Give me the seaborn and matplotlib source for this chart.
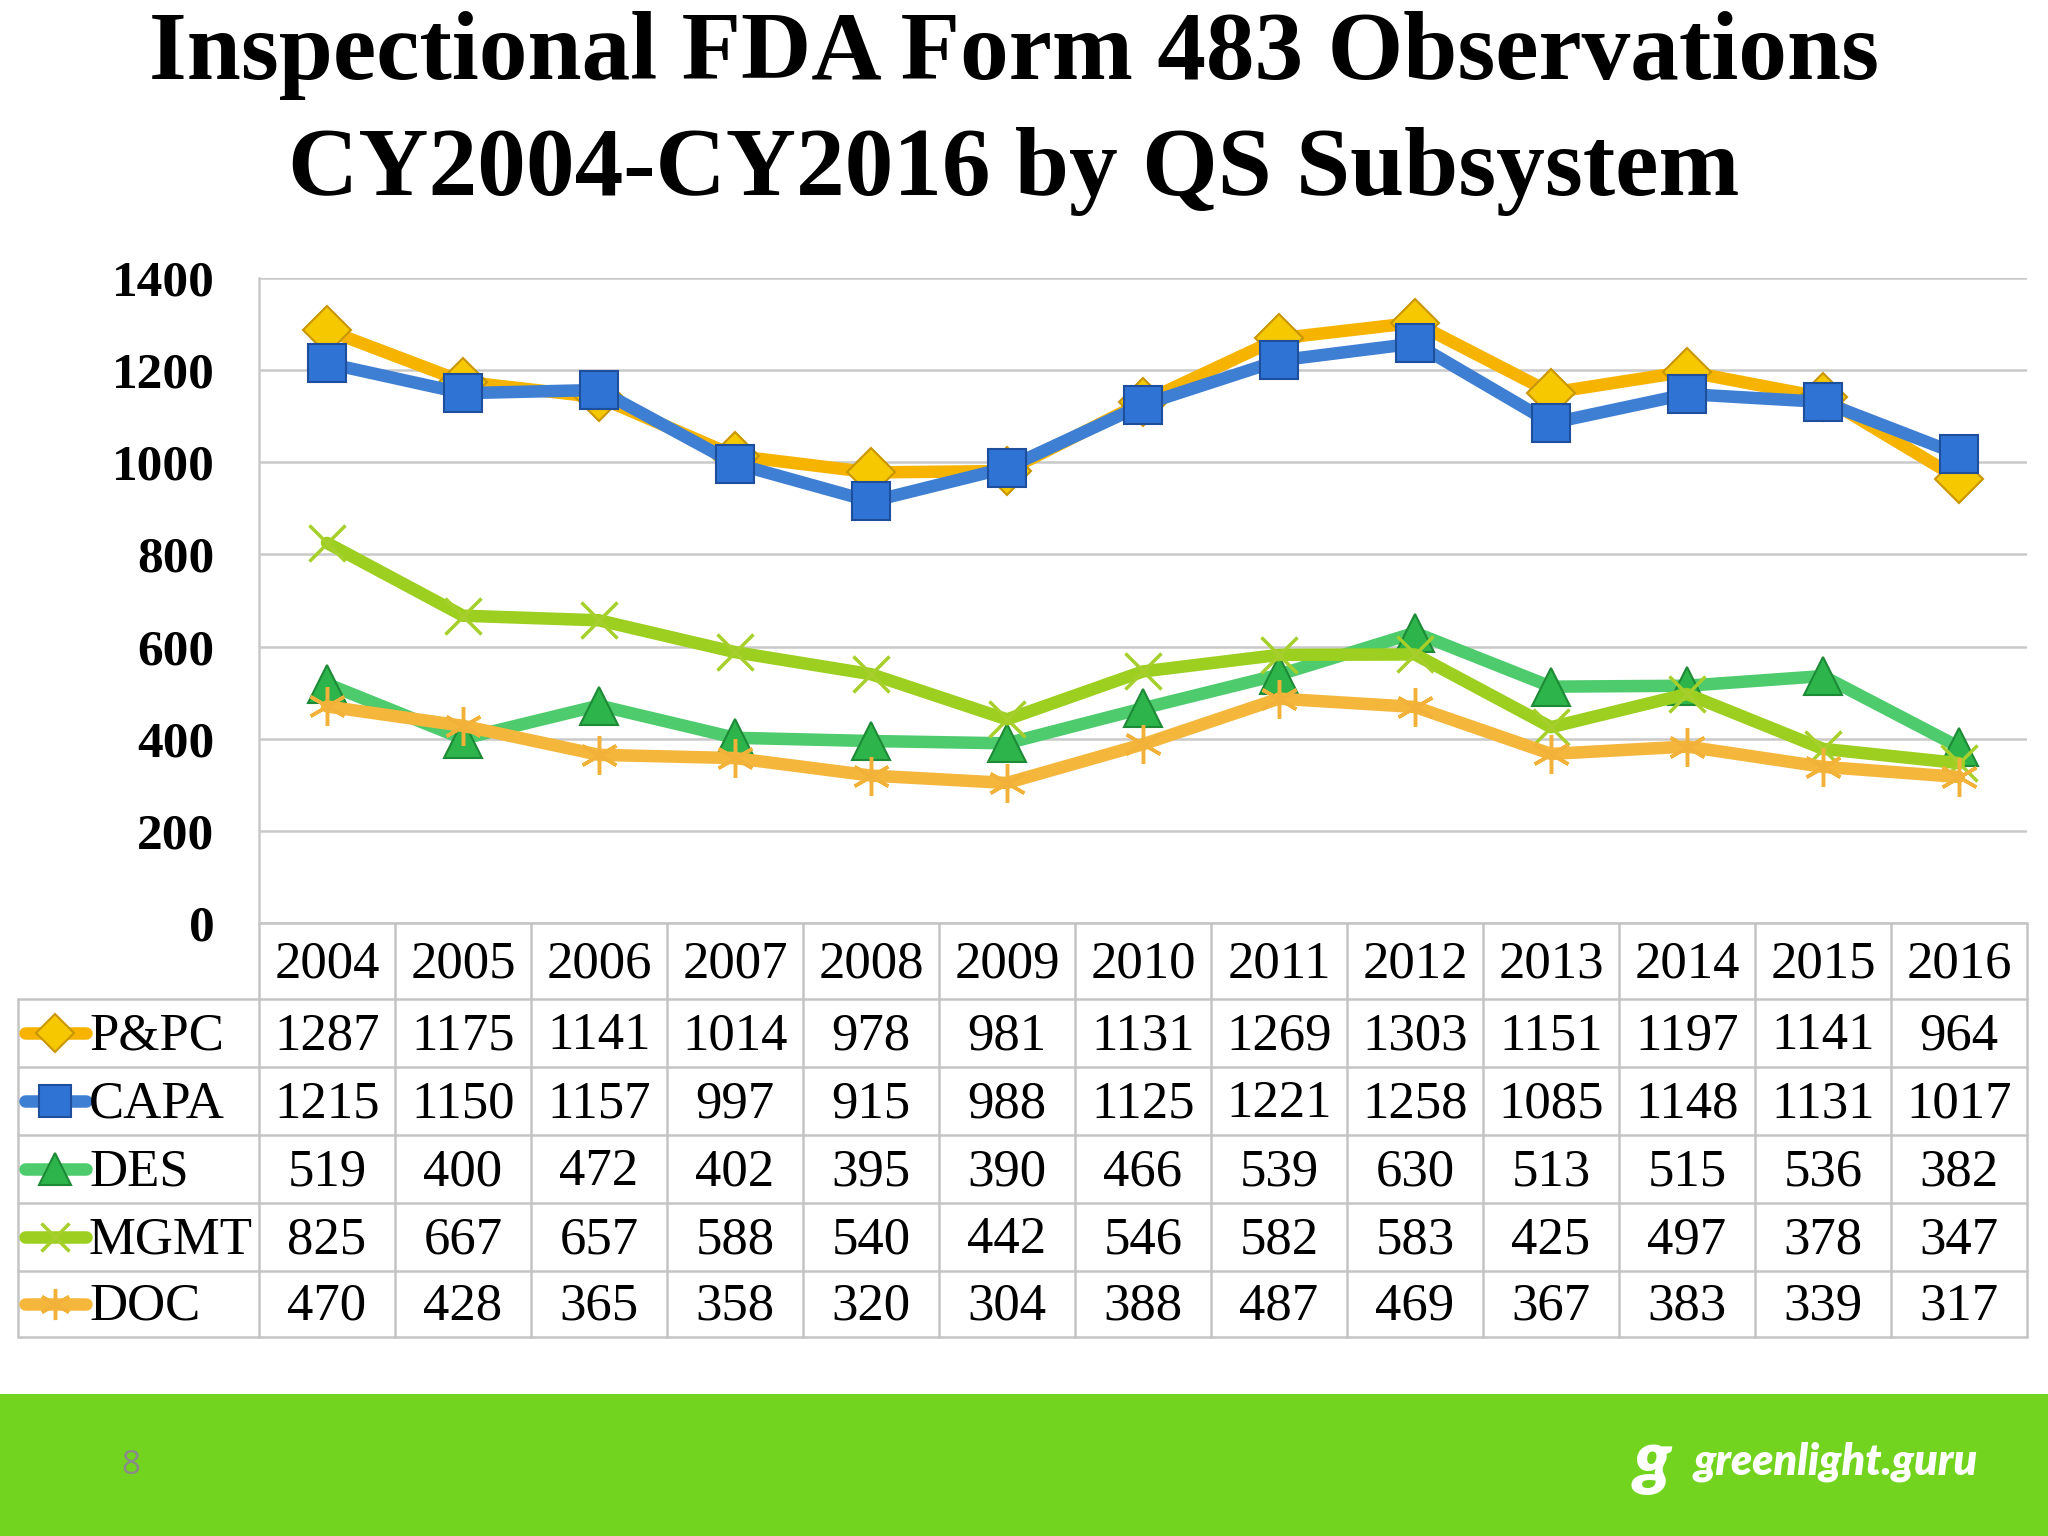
import numpy as np
import pandas as pd
import seaborn as sns
import matplotlib.pyplot as plt
from matplotlib.patches import Rectangle

# data
years = [2004, 2005, 2006, 2007, 2008, 2009, 2010, 2011, 2012, 2013, 2014, 2015, 2016]
ppc = [1287, 1175, 1141, 1014, 978, 981, 1131, 1269, 1303, 1151, 1197, 1141, 964]
capa = [1215, 1150, 1157, 997, 915, 988, 1125, 1221, 1258, 1085, 1148, 1131, 1017]
des = [519, 400, 472, 402, 395, 390, 466, 539, 630, 513, 515, 536, 382]
mgmt = [825, 667, 657, 588, 540, 442, 546, 582, 583, 425, 497, 378, 347]
doc = [470, 428, 365, 358, 320, 304, 388, 487, 469, 367, 383, 339, 317]
names = ['P&PC', 'CAPA', 'DES', 'MGMT', 'DOC']
yticks = [0, 200, 400, 600, 800, 1000, 1200, 1400]

df = pd.DataFrame({'year': years, 'P&PC': ppc, 'CAPA': capa, 'DES': des,
                   'MGMT': mgmt, 'DOC': doc})
long = df.melt(id_vars='year', var_name='series', value_name='count')

# style per series: line colour, marker, marker face, marker edge, size, edge width
styles = {
    'P&PC': dict(color='#F6B400', marker='D', mfc='#F5C800', mec='#C99500', ms=24, mew=1.5),
    'CAPA': dict(color='#3E7ED3', marker='s', mfc='#2F73D4', mec='#1E4F9C', ms=28, mew=1.5),
    'DES': dict(color='#4ECB6C', marker='^', mfc='#2DB44B', mec='#1D8A36', ms=28, mew=1.5),
    'MGMT': dict(color='#9CCF1F', marker='x', mfc='#A6CF2C', mec='#A6CF2C', ms=26, mew=2.5),
    'DOC': dict(color='#F5B63C', marker=(6, 2, 0), mfc='#F2B23A', mec='#F2B23A', ms=28, mew=2.5),
}

W, H = 2048, 1536
plot_l, plot_r, plot_t, plot_b = 259, 2027, 278, 923
tab_l = 18
row_edges = [923, 999, 1067, 1135, 1203, 1271, 1337]
serif = ['Liberation Serif', 'DejaVu Serif']

sns.set_style('white')
plt.rcParams['font.family'] = serif
plt.rcParams['text.color'] = 'black'
plt.rcParams['ytick.color'] = 'black'

fig = plt.figure(figsize=(W / 100, H / 100), dpi=100)
fig.patch.set_facecolor('white')

# overlay in pixel coordinates for the table, title and footer
ov = fig.add_axes([0, 0, 1, 1])
ov.set_xlim(0, W)
ov.set_ylim(H, 0)
ov.axis('off')

ax = fig.add_axes([plot_l / W, 1 - plot_b / H, (plot_r - plot_l) / W, (plot_b - plot_t) / H])
ax.patch.set_alpha(0)

for name in names:
    st = styles[name]
    sub = long[long.series == name]
    sns.lineplot(data=sub, x='year', y='count', ax=ax, color=st['color'], linewidth=9,
                 marker=st['marker'], markersize=st['ms'], markerfacecolor=st['mfc'],
                 markeredgecolor=st['mec'], markeredgewidth=st['mew'], zorder=3)

ax.set_xlim(years[0] - 0.5, years[-1] + 0.5)
ax.set_ylim(0, 1400)
ax.set_yticks(yticks)
ax.set_yticklabels([str(v) for v in yticks], fontsize=37, fontweight='bold', color='black')
ax.set_xticks([])
ax.set_xlabel('')
ax.set_ylabel('')
ax.tick_params(axis='y', length=0, pad=32)
ax.grid(axis='y', color='#C9C9C9', linewidth=1.8)
for s in ['top', 'right', 'bottom']:
    ax.spines[s].set_visible(False)
ax.spines['left'].set_color('#C9C9C9')
ax.spines['left'].set_linewidth(1.8)

# title
ov.text(1014, 55, 'Inspectional FDA Form 483 Observations', ha='center', va='center',
        fontsize=70, fontweight='bold', family=serif, color='black')
ov.text(1014, 172, 'CY2004-CY2016 by QS Subsystem', ha='center', va='center',
        fontsize=70, fontweight='bold', family=serif, color='black')

# data table
grid_c = '#C4C4C4'
cw = (plot_r - plot_l) / len(years)
for k, y in enumerate(row_edges):
    x0 = plot_l if k == 0 else tab_l
    ov.plot([x0, plot_r], [y, y], color=grid_c, lw=1.8)
ov.plot([tab_l, tab_l], [row_edges[1], row_edges[-1]], color=grid_c, lw=1.8)
for i in range(len(years) + 1):
    x = plot_l + i * cw
    ov.plot([x, x], [row_edges[0], row_edges[-1]], color=grid_c, lw=1.8)

tab_fs = 38
for i, yr in enumerate(years):
    cx = plot_l + (i + 0.5) * cw
    ov.text(cx, (row_edges[0] + row_edges[1]) / 2 + 3, str(yr), ha='center', va='center',
            fontsize=tab_fs, family=serif, color='black')
for r, name in enumerate(names):
    cy = (row_edges[r + 1] + row_edges[r + 2]) / 2 + 3
    vals = df[name].tolist()
    for i, v in enumerate(vals):
        cx = plot_l + (i + 0.5) * cw
        ov.text(cx, cy, str(v), ha='center', va='center', fontsize=tab_fs, family=serif,
                color='black')
    st = styles[name]
    ov.plot([25, 86], [cy - 3, cy - 3], color=st['color'], lw=9, solid_capstyle='round')
    ov.plot([55], [cy - 3], marker=st['marker'], ms=st['ms'] * 0.8, mfc=st['mfc'],
            mec=st['mec'], mew=st['mew'], linestyle='none')
    ov.text(89, cy, name, ha='left', va='center', fontsize=tab_fs, family=serif, color='black')

# footer band
ov.add_patch(Rectangle((0, 1394), W, H - 1394, facecolor='#72D41E', edgecolor='none'))
ov.text(131, 1465, '8', ha='center', va='center', fontsize=24, color='#8A8A8A',
        family=['Open Sans', 'DejaVu Sans'])
ov.text(1652, 1462, 'g', ha='center', va='center', fontsize=52, color='white',
        fontweight='heavy', style='italic', family=['Lato', 'DejaVu Sans'])
ov.text(1694, 1462, 'greenlight.guru', ha='left', va='center', fontsize=31, color='white',
        fontweight='heavy', style='italic', family=['Lato', 'DejaVu Sans'])

fig.savefig('out.png', dpi=100)
